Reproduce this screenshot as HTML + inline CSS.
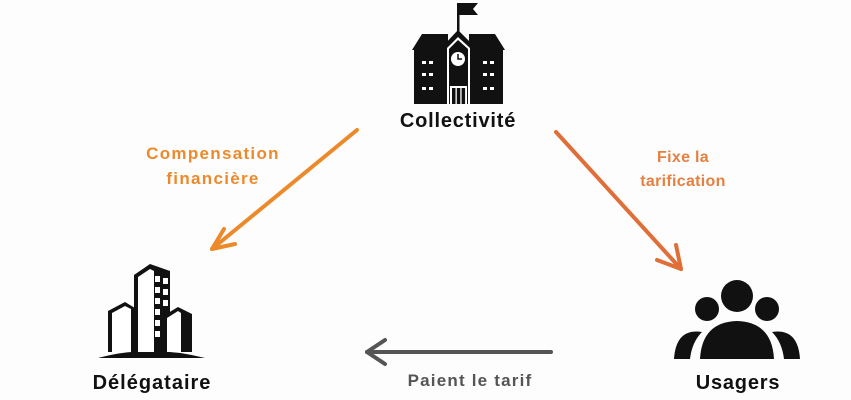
<!DOCTYPE html>
<html><head><meta charset="utf-8"><style>
html,body{margin:0;padding:0;background:#fdfdfd;width:851px;height:400px;overflow:hidden}
svg{display:block}
text{font-family:"Liberation Sans",sans-serif;font-weight:bold}
</style></head><body>
<svg width="851" height="400" viewBox="0 0 851 400">
<!-- school -->
<g fill="#111">
<rect x="457" y="3" width="2.5" height="30"/>
<polygon points="459,3 478,3 473,9 478,15 459,15"/>
<polygon points="412,50 422,34 448,34 448,50"/>
<polygon points="469,34 495,34 505,50 469,50"/>
<rect x="414" y="50" width="32" height="54"/>
<rect x="471" y="50" width="32" height="54"/>
<polygon points="443,104 443,46 458,30 474,46 474,104" fill="#111"/>
<polygon points="447,104 447,48 458,37 470,48 470,104" fill="#fff"/>
<polygon points="449,104 449,49 458,40 468,49 468,104"/>
<circle cx="458" cy="59" r="7" fill="#fff"/>
<path d="M458,54 v5 h4" stroke="#111" stroke-width="1.5" fill="none"/>
<rect x="450" y="86" width="17" height="18" fill="#fff"/>
<rect x="452" y="88" width="3.5" height="16"/><rect x="456.8" y="88" width="3.5" height="16"/><rect x="461.6" y="88" width="3.5" height="16"/>
</g>
<g fill="#fff">
<rect x="422" y="61" width="4" height="3"/><rect x="429" y="61" width="4" height="3"/>
<rect x="422" y="73" width="4" height="3"/><rect x="429" y="73" width="4" height="3"/>
<rect x="422" y="87" width="4" height="3"/><rect x="429" y="87" width="4" height="3"/>
<rect x="483" y="61" width="4" height="3"/><rect x="490" y="61" width="4" height="3"/>
<rect x="483" y="73" width="4" height="3"/><rect x="490" y="73" width="4" height="3"/>
<rect x="483" y="87" width="4" height="3"/><rect x="490" y="87" width="4" height="3"/>
</g>
<text x="458" y="127" font-size="20" letter-spacing="0.8" text-anchor="middle" fill="#111">Collectivité</text>

<!-- buildings -->
<g fill="#111">
<path d="M98,358 Q150,344 205,358 Z"/>
<polygon points="108,311 125,302 135,308 135,352 108,352"/>
<polygon points="112,313 125,306 131,309 131,352 112,352" fill="#fff"/>
<polygon points="134,275 150,264 170,271 170,352 134,352"/>
<polygon points="138,277 150,269 154,271 154,352 138,352" fill="#fff"/>
<polygon points="163,316 178,307 192,314 192,352 163,352"/>
<polygon points="167,318 178,311 181,313 181,352 167,352" fill="#fff"/>
</g>
<g fill="#fff">
<rect x="155" y="276" width="5" height="6"/><rect x="163" y="278" width="5" height="6"/>
<rect x="155" y="287" width="5" height="6"/><rect x="163" y="289" width="5" height="6"/>
<rect x="155" y="298" width="5" height="6"/><rect x="163" y="300" width="5" height="6"/>
<rect x="155" y="309" width="5" height="6"/>
<rect x="155" y="320" width="5" height="6"/>
<rect x="155" y="331" width="5" height="6"/>
</g>
<text x="152" y="389" font-size="20" letter-spacing="1" text-anchor="middle" fill="#111">Délégataire</text>

<!-- users -->
<g fill="#111">
<circle cx="737" cy="296" r="16"/>
<circle cx="707" cy="309" r="12"/>
<circle cx="767" cy="309" r="12"/>
<path d="M674,359 Q676,328 702,332 Q692,342 690,359 Z"/>
<path d="M800,359 Q798,328 772,332 Q782,342 784,359 Z"/>
<path d="M700,359 Q702,322 737,321 Q772,322 774,359 Z"/>
</g>
<text x="738" y="389" font-size="20" letter-spacing="0.8" text-anchor="middle" fill="#111">Usagers</text>

<!-- arrows -->
<g stroke-width="4" fill="none" stroke-linecap="round" stroke-linejoin="round">
<path d="M357,130 L212,249" stroke="#ec8a2b"/>
<path d="M212,249 L224,229 M212,249 L235,244" stroke="#ec8a2b"/>
<path d="M556,132 L681,269" stroke="#e06e38"/>
<path d="M681,269 L657,260 M681,269 L676,245" stroke="#e06e38"/>
<path d="M551,352 L367,352" stroke="#555"/>
<path d="M367,352 L385,340 M367,352 L385,364" stroke="#555"/>
</g>
<g font-size="17" letter-spacing="1.3" text-anchor="middle" fill="#ec8a2b">
<text x="213" y="159">Compensation</text>
<text x="213" y="184">financière</text>
</g>
<g font-size="16" letter-spacing="0.3" text-anchor="middle" fill="#e58040">
<text x="683" y="162">Fixe la</text>
<text x="683" y="186">tarification</text>
</g>
<text x="470" y="386" font-size="17" letter-spacing="1.2" text-anchor="middle" fill="#555">Paient le tarif</text>
</svg>
</body></html>
